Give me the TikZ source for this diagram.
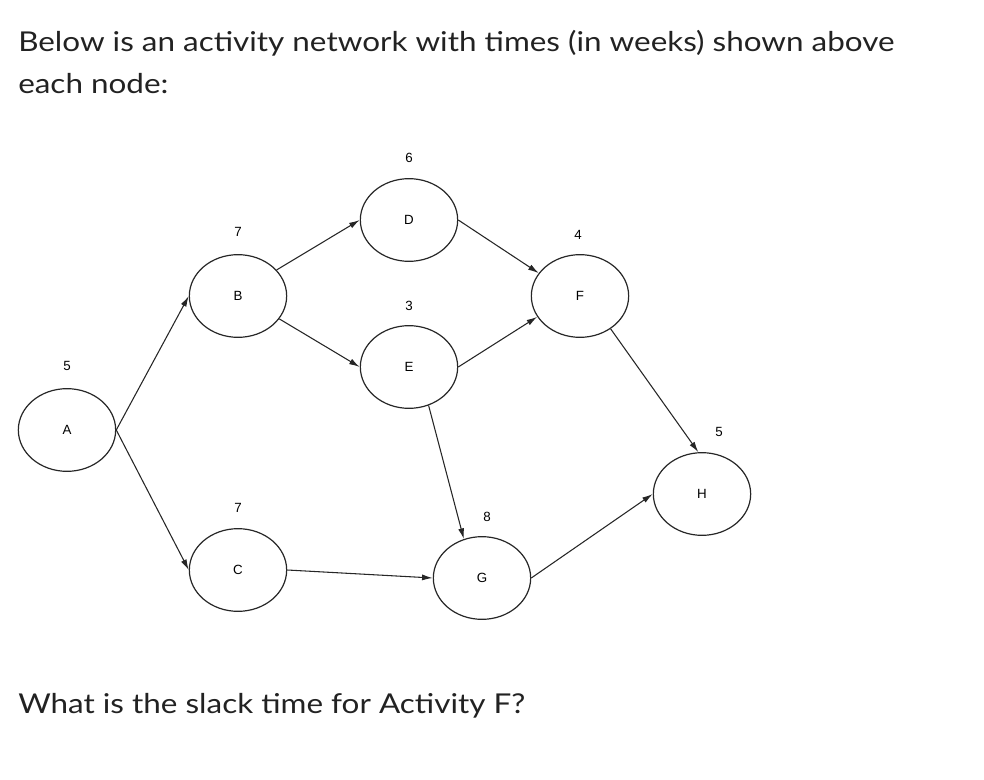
\documentclass[tikz,border=0pt]{standalone}
\usepackage{fontspec}
\setmainfont{Lato}[FakeStretch=1.15]
\newfontfamily\diagfont{Liberation Sans}
\usetikzlibrary{shapes.geometric,arrows.meta}
\definecolor{txt}{HTML}{222222}
\tikzset{
  act/.style={draw=black!85, line width=0.9pt, ellipse, minimum width=73pt, minimum height=62pt, inner sep=0pt, font=\diagfont\fontsize{10}{11}\selectfont},
  dur/.style={font=\diagfont\fontsize{10}{11}\selectfont, inner sep=0pt},
  link/.style={draw=black!85, line width=0.8pt, -{Latex[length=8pt,width=4.5pt]}},
  para/.style={font=\fontsize{20.5}{24}\selectfont, text=txt, inner sep=0pt, anchor=base west}
}
\begin{document}
\begin{tikzpicture}[x=0.75pt,y=-0.75pt]
\useasboundingbox (0,0) rectangle (984,780);
\node[para] (t1) at (18,52) {Below is an activity network with times (in weeks) shown above};
\node[para] (t2) at (18,94) {each node:};
\node[para] (q) at (18,713) {What is the slack time for Activity F?};

\node[act] (A) at (67,430) {A};
\node[act] (B) at (238,296) {B};
\node[act] (D) at (409,220) {D};
\node[act] (E) at (409,367) {E};
\node[act] (F) at (580,296) {F};
\node[act] (C) at (238,570) {C};
\node[act] (G) at (482,578) {G};
\node[act] (H) at (702,494) {H};

\node[dur] (dA) at (67,366) {5};
\node[dur] (dB) at (238,232) {7};
\node[dur] (dD) at (409,158) {6};
\node[dur] (dE) at (409,306) {3};
\node[dur] (dF) at (578,235) {4};
\node[dur] (dC) at (238,508) {7};
\node[dur] (dG) at (487,517) {8};
\node[dur] (dH) at (719,432) {5};

\draw[link] (A.east) -- (B.west);
\draw[link] (A.east) -- (C.west);
\draw[link] (B.34) -- (D.west);
\draw[link] (B.-29) -- (E.west);
\draw[link] (D.east) -- (F.151);
\draw[link] (E.east) -- (F.206);
\draw[link] (E.-63) -- (G.115);
\draw[link] (F.-47) -- (H.95);
\draw[link] (C.east) -- (G.west);
\draw[link] (G.east) -- (H.west);
\end{tikzpicture}
\end{document}
